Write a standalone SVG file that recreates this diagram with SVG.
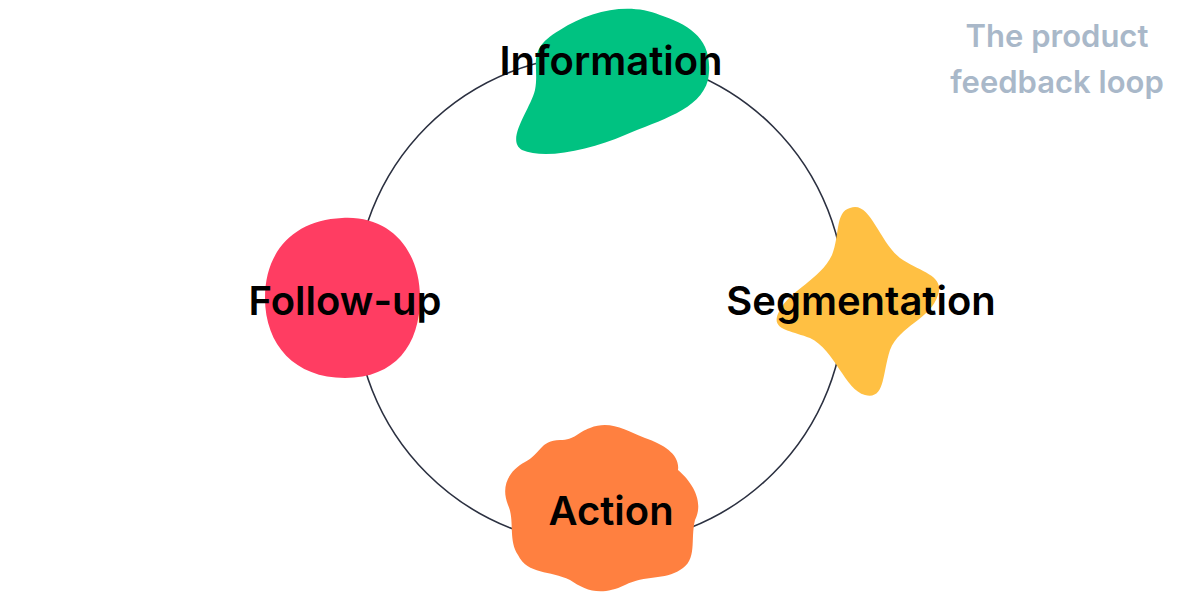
<svg xmlns="http://www.w3.org/2000/svg" width="1200" height="600" viewBox="0 0 1200 600">
<style>
.lbl{font-family:Inter,"Liberation Sans",sans-serif;font-weight:600;font-size:40px;fill:#000;text-anchor:middle}
.ttl{font-family:Inter,"Liberation Sans",sans-serif;font-weight:600;font-size:31px;fill:#a9b8c9;text-anchor:middle}
</style>
<rect width="1200" height="600" fill="#fff"/>
<g id="connectors"><circle cx="600" cy="300" r="245" fill="none" stroke="#2b3040" stroke-width="1.6"/></g>
<g id="information">
<path d="M560 30 C590 10 630 2 660 15 C690 25 715 40 708 80 C700 110 660 120 625 135 C590 150 545 160 522 150 C505 140 530 110 535 90 C540 65 525 50 560 30 Z" fill="#00c281"/>
<text class="lbl" x="611" y="75">Information</text></g>
<g id="segmentation">
<path d="M850 208 C870 200 878 240 900 258 C920 272 945 275 938 295 C930 320 900 325 890 350 C882 375 885 400 865 395 C845 390 835 350 810 338 C790 330 768 330 780 310 C790 290 820 280 832 255 C840 235 835 212 850 208 Z" fill="#ffc043"/>
<text class="lbl" x="861" y="315">Segmentation</text></g>
<g id="follow-up">
<path d="M342 218 C390 215 420 250 420 298 C420 345 395 378 345 378 C295 378 265 345 265 298 C265 250 295 220 342 218 Z" fill="#ff3d62"/>
<text class="lbl" x="345" y="315">Follow-up</text></g>
<g id="action">
<path d="M590 428 C610 420 625 430 645 438 C665 445 680 455 678 470 C690 480 705 500 695 520 C690 540 698 560 680 570 C665 580 645 575 625 585 C600 597 585 590 570 580 C550 570 528 575 518 555 C508 540 515 520 508 505 C500 485 510 470 525 462 C540 455 540 440 560 440 C575 440 578 432 590 428 Z" fill="#ff8040"/>
<text class="lbl" x="611" y="525">Action</text></g>
<g id="title"><text class="ttl" x="1057" y="47">The product</text><text class="ttl" x="1057" y="93">feedback loop</text></g>
</svg>
